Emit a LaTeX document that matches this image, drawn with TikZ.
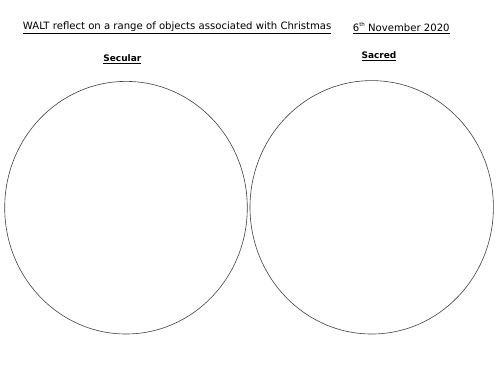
\documentclass[tikz,border=0pt]{standalone}
\usepackage{fontspec}
\setmainfont{DejaVu Sans}
\begin{document}
\begin{tikzpicture}[x=1pt,y=-1pt,
  ring/.style={draw=black!75,line width=0.6pt},
  title/.style={font=\fontsize{10.1}{12}\selectfont,inner sep=0pt,anchor=west},
  head/.style={font=\bfseries\fontsize{9}{11}\selectfont,inner sep=0pt}]
\useasboundingbox (0,0) rectangle (500,386);
\node[title] (walt) at (22.7,28) {\underline{WALT reflect on a range of objects associated with Christmas}};
\node[title] (date) at (352.7,28) {\underline{6\raisebox{0.45em}{\fontsize{5.5}{6}\selectfont th} November 2020}};
\node[head] (sec) at (122.3,59) {\underline{Secular}};
\node[head] (sac) at (379,56) {\underline{Sacred}};
\draw[ring] (126,207.7) ellipse [x radius=121.3, y radius=126.3];
\draw[ring] (371.7,207.3) ellipse [x radius=121.7, y radius=126.7];
\end{tikzpicture}
\end{document}
